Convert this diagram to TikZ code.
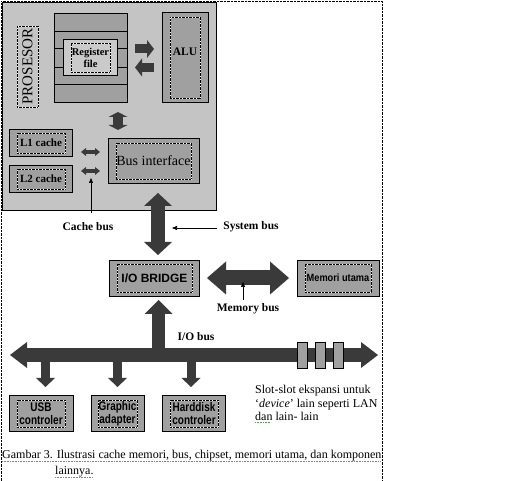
\documentclass[tikz,border=0pt]{standalone}
\usepackage{fontspec}
\setmainfont{Liberation Serif}
\newfontfamily\sansf{Liberation Sans}
\newfontfamily\sansn[FakeStretch=0.88]{Liberation Sans}
\newfontfamily\sansnn[FakeStretch=0.8]{Liberation Sans}
\usetikzlibrary{arrows.meta}
\definecolor{procgray}{HTML}{C4C4C4}
\definecolor{boxgray}{HTML}{A0A0A0}
\definecolor{reggray}{HTML}{CACACA}
\definecolor{arrowc}{HTML}{3A3A3A}
\definecolor{spellgreen}{HTML}{5AA05A}
\begin{document}
\begin{tikzpicture}[x=1pt,y=-1pt,
  box/.style={draw=black, fill=boxgray, line width=0.6pt, inner sep=0pt},
  dotbox/.style={draw=white, line width=0.7pt, inner sep=0pt,
     postaction={draw=black, line width=0.7pt, dash pattern=on 0.7pt off 0.7pt}},
  blk/.style args={#1/#2/#3}{draw=arrowc, line width=#1,
     arrows={-Triangle[width=#2,length=#3,line width=0pt]}},
  dblk/.style args={#1/#2/#3}{draw=arrowc, line width=#1,
     arrows={Triangle[width=#2,length=#3,line width=0pt]-Triangle[width=#2,length=#3,line width=0pt]}},
  pointer/.style={draw=black, line width=0.6pt, -{Triangle[width=4pt,length=5pt]}},
  blabel/.style={font=\fontsize{11.5}{13}\selectfont\bfseries, inner sep=0pt},
  sanslabel/.style={font=\sansnn\fontsize{12.5}{13}\selectfont\bfseries, align=center, inner sep=0pt},
  spell/.style={draw=spellgreen, line width=0.6pt, dash pattern=on 0.8pt off 0.8pt}
]
\useasboundingbox (0,0) rectangle (512,481);
\fill[white] (0,0) rectangle (512,481);
% outer dotted frame
\draw[line width=0.7pt, dash pattern=on 0.7pt off 0.7pt] (1,481) -- (1,1) -- (382,1) -- (382,481);

% processor
\node[draw=black, fill=procgray, line width=0.6pt, minimum width=214, minimum height=208, inner sep=0pt] (proc) at (109,106) {};
\node[dotbox, rotate=90, minimum width=81, minimum height=21, font=\fontsize{15}{15}\selectfont] (prosesor) at (27.5,66.5) {PROSESOR};

% register stack
\node[box, minimum width=73, minimum height=89] (stack) at (90.5,57.5) {};
\draw[line width=0.6pt] (stack.west |- 0,31) -- (stack.east |- 0,31);
\draw[line width=0.6pt] (stack.west |- 0,84) -- (stack.east |- 0,84);
\node[draw=black, fill=reggray, line width=0.6pt, inner sep=0pt, minimum width=54, minimum height=36] (reg) at (90,57) {};
\draw[line width=0.6pt] (stack.west |- 0,48) -- (reg.west |- 0,48);
\draw[line width=0.6pt] (stack.west |- 0,67) -- (reg.west |- 0,67);
\draw[line width=0.6pt] (reg.east |- 0,48) -- (stack.east |- 0,48);
\draw[line width=0.6pt] (reg.east |- 0,67) -- (stack.east |- 0,67);
\node[dotbox, minimum width=39, minimum height=29, align=center, font=\fontsize{10.5}{12}\selectfont\bfseries] (regin) at (90.5,57.5) {Register\\file};

% ALU
\node[box, minimum width=46, minimum height=90] (alu) at (185,57) {};
\node[dotbox, minimum width=30, minimum height=81] (aluin) at (185,57.5) {};
\node[blabel] (alut) at (185,52) {ALU};

% arrows register <-> ALU
\coordinate (ra1) at (135,49);
\coordinate (ra2) at (154,49);
\coordinate (ar1) at (154,67.5);
\coordinate (ar2) at (135,67.5);
\draw[blk=9pt/18pt/7pt] (ra1) -- (ra2);
\draw[blk=9pt/18pt/7pt] (ar1) -- (ar2);

% vertical double arrow
\coordinate (v1) at (118,112);
\coordinate (v2) at (118,130);
\draw[dblk=10pt/19pt/5pt] (v1) -- (v2);

% caches
\node[box, minimum width=63, minimum height=27] (l1) at (40.5,142.5) {};
\node[dotbox, minimum width=48, minimum height=20, font=\fontsize{11}{13}\selectfont\bfseries] (l1in) at (41,143) {L1 cache};
\node[box, minimum width=63, minimum height=27] (l2) at (40.5,178.5) {};
\node[dotbox, minimum width=48, minimum height=20, font=\fontsize{11}{13}\selectfont\bfseries] (l2in) at (41,179) {L2 cache};

% bus interface
\node[box, minimum width=91, minimum height=45] (bi) at (153.5,160.5) {};
\node[dotbox, minimum width=75, minimum height=36, font=\fontsize{14}{16}\selectfont] (biin) at (153.5,161) {Bus interface};

% cache bus arrows
\coordinate (c1a) at (81,152);
\coordinate (c1b) at (100,152);
\coordinate (c2a) at (81,171);
\coordinate (c2b) at (100,171);
\draw[dblk=4pt/8pt/5pt] (c1a) -- (c1b);
\draw[dblk=4pt/8pt/5pt] (c2a) -- (c2b);
\node[blabel] (cachebus) at (88,227) {Cache bus};
\coordinate (cbt) at (91,178);
\draw[pointer] (91,213) -- (cbt);

% system bus
\coordinate (s1) at (158,193);
\coordinate (s2) at (158,255);
\draw[dblk=14pt/28pt/13pt] (s1) -- (s2);
\node[blabel] (sysbus) at (251,227) {System bus};
\coordinate (sbt) at (172,228);
\draw[pointer] (217,228) -- (sbt);

% I/O bridge and memory
\node[box, minimum width=90, minimum height=36] (bridge) at (154,278) {};
\node[dotbox, minimum width=75, minimum height=28, font=\sansf\fontsize{12}{14}\selectfont\bfseries] (bridgein) at (154.5,278) {I/O BRIDGE};
\node[box, minimum width=82, minimum height=36] (mem) at (338,278) {};
\node[dotbox, minimum width=66, minimum height=28, font=\sansn\fontsize{10.5}{12}\selectfont\bfseries] (memin) at (338,278) {Memori utama};

\coordinate (m1) at (207,278);
\coordinate (m2) at (289,278);
\draw[dblk=15pt/33pt/19pt] (m1) -- (m2);
\node[blabel] (membus) at (248,309) {Memory bus};
\coordinate (mbt) at (243,282);
\draw[pointer] (243,300) -- (mbt);

% I/O bus
\coordinate (io0) at (158.5,355);
\coordinate (iob) at (158.5,300);
\draw[blk=13pt/28pt/14pt] (io0) -- (iob);
\coordinate (iol) at (10,355);
\coordinate (ior) at (378,355);
\draw[dblk=14pt/26pt/17pt] (iol) -- (ior);
\node[blabel] (iobus) at (196,337) {I/O bus};

% slots
\foreach \sx in {297,315,333}{
  \draw[fill=boxgray, line width=0.6pt] (\sx,342) rectangle ++(10,26);
}

% down arrows
\foreach \dx/\nm in {45.5/d1,117.5/d2,191/d3}{
  \coordinate (\nm a) at (\dx,355);
  \coordinate (\nm b) at (\dx,387);
  \draw[blk=9pt/19pt/9pt] (\nm a) -- (\nm b);
}

% bottom boxes
\node[box, minimum width=64, minimum height=36] (usb) at (41,413) {};
\node[dotbox, minimum width=48, minimum height=27, sanslabel] (usbin) at (41,413.5) {USB\\controler};
\node[box, minimum width=53, minimum height=36] (gfx) at (117.5,413) {};
\node[dotbox, minimum width=39, minimum height=27, sanslabel] (gfxin) at (117.5,413.5) {Graphic\\adapter};
\node[box, minimum width=63, minimum height=36] (hdd) at (193.5,413) {};
\node[dotbox, minimum width=48, minimum height=27, sanslabel] (hddin) at (194,413.5) {Harddisk\\controler};

% slot text
\node[anchor=north west, align=left, inner sep=0pt, font=\fontsize{12}{13.5}\selectfont] (slottext) at (255,385)
  {Slot-slot ekspansi untuk\\ `\textit{device}' lain seperti LAN\\ dan lain- lain};
\draw[spell] (255,422.5) -- (271,422.5);

% caption
\node[anchor=west, inner sep=0pt, font=\fontsize{12}{14}\selectfont] (cap1) at (2,456)
  {Gambar 3. Ilustrasi cache memori, bus, chipset, memori utama, dan komponen};
\node[anchor=west, inner sep=0pt, font=\fontsize{12}{14}\selectfont] (cap2) at (55,472) {lainnya.};
\draw[spell] (2,461.5) -- (380,461.5);
\draw[spell] (55,477.5) -- (93,477.5);
\end{tikzpicture}
\end{document}
